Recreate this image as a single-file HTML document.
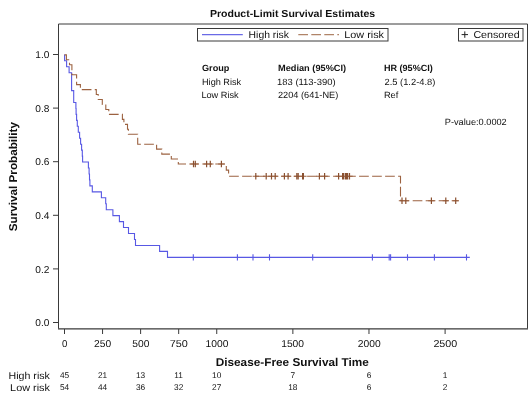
<!DOCTYPE html>
<html><head><meta charset="utf-8"><style>
html,body{margin:0;padding:0;background:#fff;width:531px;height:396px;overflow:hidden}
svg{display:block;will-change:transform}
text{font-family:"Liberation Sans",sans-serif;fill:#111;text-rendering:geometricPrecision}
.tk{font-size:10px}
.ttl{font-size:10.2px;font-weight:bold}
.lg{font-size:10px}
.ib{font-size:9px;font-weight:bold}
.ir{font-size:9px}
.al{font-size:11.4px;font-weight:bold}
.rk{font-size:10px}
.rn{font-size:8.3px}
</style></head><body>
<svg width="531" height="396" viewBox="0 0 531 396">
<path d="M58.5,24H527.5V328.5M58.5,24V328.5" fill="none" stroke="#3a3a3a" stroke-width="1"/>
<path d="M58,328.9H528" fill="none" stroke="#3a3a3a" stroke-width="1.35"/>
<path d="M53,322.50H58.5" stroke="#3a3a3a" stroke-width="1"/>
<path d="M53,268.90H58.5" stroke="#3a3a3a" stroke-width="1"/>
<path d="M53,215.30H58.5" stroke="#3a3a3a" stroke-width="1"/>
<path d="M53,161.70H58.5" stroke="#3a3a3a" stroke-width="1"/>
<path d="M53,108.10H58.5" stroke="#3a3a3a" stroke-width="1"/>
<path d="M53,54.50H58.5" stroke="#3a3a3a" stroke-width="1"/>
<path d="M64.50,329V334" stroke="#3a3a3a" stroke-width="1"/>
<path d="M102.56,329V334" stroke="#3a3a3a" stroke-width="1"/>
<path d="M140.62,329V334" stroke="#3a3a3a" stroke-width="1"/>
<path d="M178.68,329V334" stroke="#3a3a3a" stroke-width="1"/>
<path d="M216.74,329V334" stroke="#3a3a3a" stroke-width="1"/>
<path d="M292.86,329V334" stroke="#3a3a3a" stroke-width="1"/>
<path d="M368.98,329V334" stroke="#3a3a3a" stroke-width="1"/>
<path d="M445.10,329V334" stroke="#3a3a3a" stroke-width="1"/>
<g transform="translate(0,0.35)">
<path d="M64.5,54.5 H64.60 V60.46 H66.60 V66.41 H69.10 V72.37 H71.60 V78.32 H71.60 V84.28 H71.60 V90.23 H73.70 V96.19 H73.70 V102.14 H75.90 V108.10 H76.10 V114.06 H76.60 V120.01 H77.30 V125.97 H78.30 V131.92 H79.60 V137.88 H80.60 V143.83 H81.60 V149.79 H82.30 V155.74 H82.60 V161.70 H88.40 V167.66 H89.10 V173.61 H89.50 V179.57 H89.90 V185.52 H92.30 V191.48 H101.40 V197.43 H105.70 V203.39 H106.30 V209.34 H112.90 V215.30 H119.40 V221.26 H123.50 V227.21 H128.50 V233.17 H134.50 V239.12 H135.50 V245.08 H159.60 V251.03 H167.50 V256.99 H469.8" fill="none" stroke="#5858e4" stroke-width="1.1"/>
<path d="M193.30,253.79V260.19M237.40,253.79V260.19M253.00,253.79V260.19M269.50,253.79V260.19M312.70,253.79V260.19M372.40,253.79V260.19M389.20,253.79V260.19M390.60,253.79V260.19M407.50,253.79V260.19M434.40,253.79V260.19M466.50,253.79V260.19" fill="none" stroke="#5858e4" stroke-width="1.1"/>
<path d="M64.5,54.5 H66.40 V59.46 H69.50 V64.43 H71.90 V69.39 H71.90 V74.35 H76.60 V79.31 H76.60 V84.28 H80.40 V89.24 H96.30 V94.20 H98.20 V99.17 H102.30 V104.13 H105.80 V109.09 H108.80 V114.06 H122.40 V119.02 H123.90 V123.98 H127.50 V128.94 H128.40 V133.91 H137.70 V138.87 H137.70 V143.83 H156.60 V148.80 H161.80 V153.76 H171.30 V158.72 H178.30 V163.69 H226.30 V169.79 H228.60 V175.90 H400.50 V200.33 H458.6" fill="none" stroke="#9c6240" stroke-width="1.1" stroke-dasharray="9.7 3.3"/>
<path d="M190.30,163.69H196.70M192.10,163.69H198.50M203.40,163.69H209.80M207.10,163.69H213.50M218.20,163.69H224.60M252.60,175.90H259.00M263.00,175.90H269.40M268.30,175.90H274.70M272.00,175.90H278.40M281.20,175.90H287.60M284.90,175.90H291.30M293.60,175.90H300.00M295.00,175.90H301.40M299.40,175.90H305.80M300.20,175.90H306.60M316.20,175.90H322.60M321.40,175.90H327.80M335.40,175.90H341.80M339.40,175.90H345.80M340.60,175.90H347.00M342.40,175.90H348.80M343.60,175.90H350.00M344.40,175.90H350.80M346.30,175.90H352.70M398.80,200.33H405.20M402.60,200.33H409.00M428.20,200.33H434.60M442.60,200.33H449.00M452.50,200.33H458.90" fill="none" stroke="#9c6240" stroke-width="1.1"/>
<path d="M193.50,160.49V166.89M195.30,160.49V166.89M206.60,160.49V166.89M210.30,160.49V166.89M221.40,160.49V166.89M255.80,172.70V179.10M266.20,172.70V179.10M271.50,172.70V179.10M275.20,172.70V179.10M284.40,172.70V179.10M288.10,172.70V179.10M296.80,172.70V179.10M298.20,172.70V179.10M302.60,172.70V179.10M303.40,172.70V179.10M319.40,172.70V179.10M324.60,172.70V179.10M338.60,172.70V179.10M342.60,172.70V179.10M343.80,172.70V179.10M345.60,172.70V179.10M346.80,172.70V179.10M347.60,172.70V179.10M349.50,172.70V179.10M402.00,197.13V203.53M405.80,197.13V203.53M431.40,197.13V203.53M445.80,197.13V203.53M455.70,197.13V203.53" fill="none" stroke="#8a5030" stroke-width="1.2"/>
</g>
<rect x="197.5" y="28.5" width="190.5" height="12.5" fill="none" stroke="#3a3a3a" stroke-width="1"/>
<path d="M202,34.6H242.8" stroke="#6a6ae6" stroke-width="1.4"/>
<path d="M298.3,34.6H339" stroke="#b08468" stroke-width="1.4" stroke-dasharray="9.7 3.3"/>
<rect x="458.5" y="28.5" width="64.5" height="12.5" fill="none" stroke="#3a3a3a" stroke-width="1"/>
<path d="M461.6,34.6H468 M464.8,31.4V37.8" stroke="#222" stroke-width="1"/>
<text x="292.55" y="16.80" text-anchor="middle" class="ttl" textLength="165.26" lengthAdjust="spacingAndGlyphs">Product-Limit Survival Estimates</text>
<text x="292.30" y="366.20" text-anchor="middle" class="al" textLength="153.15" lengthAdjust="spacingAndGlyphs">Disease-Free Survival Time</text>
<text transform="translate(17.00,176.60) rotate(-90)" text-anchor="middle" class="al" textLength="109.16" lengthAdjust="spacingAndGlyphs">Survival Probability</text>
<text x="248.60" y="38.20" text-anchor="start" class="lg" textLength="40.31" lengthAdjust="spacingAndGlyphs">High risk</text>
<text x="344.30" y="38.20" text-anchor="start" class="lg" textLength="39.69" lengthAdjust="spacingAndGlyphs">Low risk</text>
<text x="473.40" y="38.40" text-anchor="start" class="lg" textLength="46.36" lengthAdjust="spacingAndGlyphs">Censored</text>
<text x="202.00" y="70.90" text-anchor="start" class="ib" textLength="27.40" lengthAdjust="spacingAndGlyphs">Group</text>
<text x="278.00" y="70.90" text-anchor="start" class="ib" textLength="68.12" lengthAdjust="spacingAndGlyphs">Median (95%CI)</text>
<text x="383.90" y="70.90" text-anchor="start" class="ib" textLength="48.92" lengthAdjust="spacingAndGlyphs">HR (95%CI)</text>
<text x="202.00" y="84.80" text-anchor="start" class="ir" textLength="39.12" lengthAdjust="spacingAndGlyphs">High Risk</text>
<text x="277.00" y="84.80" text-anchor="start" class="ir" textLength="58.68" lengthAdjust="spacingAndGlyphs">183 (113-390)</text>
<text x="384.50" y="84.80" text-anchor="start" class="ir" textLength="50.83" lengthAdjust="spacingAndGlyphs">2.5 (1.2-4.8)</text>
<text x="201.40" y="97.80" text-anchor="start" class="ir" textLength="37.32" lengthAdjust="spacingAndGlyphs">Low Risk</text>
<text x="278.00" y="97.80" text-anchor="start" class="ir" textLength="60.25" lengthAdjust="spacingAndGlyphs">2204 (641-NE)</text>
<text x="383.90" y="97.80" text-anchor="start" class="ir" textLength="14.42" lengthAdjust="spacingAndGlyphs">Ref</text>
<text x="444.80" y="124.80" text-anchor="start" class="ir" textLength="61.95" lengthAdjust="spacingAndGlyphs">P-value:0.0002</text>
<text x="49.90" y="378.50" text-anchor="end" class="rk" textLength="41.33" lengthAdjust="spacingAndGlyphs">High risk</text>
<text x="49.90" y="390.90" text-anchor="end" class="rk" textLength="39.79" lengthAdjust="spacingAndGlyphs">Low risk</text>
<text x="49.50" y="326.20" text-anchor="end" class="tk" textLength="14.11" lengthAdjust="spacingAndGlyphs">0.0</text>
<text x="49.50" y="272.60" text-anchor="end" class="tk" textLength="14.11" lengthAdjust="spacingAndGlyphs">0.2</text>
<text x="49.50" y="219.00" text-anchor="end" class="tk" textLength="14.11" lengthAdjust="spacingAndGlyphs">0.4</text>
<text x="49.50" y="165.40" text-anchor="end" class="tk" textLength="14.11" lengthAdjust="spacingAndGlyphs">0.6</text>
<text x="49.50" y="111.80" text-anchor="end" class="tk" textLength="14.11" lengthAdjust="spacingAndGlyphs">0.8</text>
<text x="49.50" y="58.20" text-anchor="end" class="tk" textLength="14.11" lengthAdjust="spacingAndGlyphs">1.0</text>
<text x="64.80" y="346.70" text-anchor="middle" class="tk" textLength="5.36" lengthAdjust="spacingAndGlyphs">0</text>
<text x="102.60" y="346.70" text-anchor="middle" class="tk" textLength="17.09" lengthAdjust="spacingAndGlyphs">250</text>
<text x="140.90" y="346.70" text-anchor="middle" class="tk" textLength="17.09" lengthAdjust="spacingAndGlyphs">500</text>
<text x="178.70" y="346.70" text-anchor="middle" class="tk" textLength="18.09" lengthAdjust="spacingAndGlyphs">750</text>
<text x="217.00" y="346.70" text-anchor="middle" class="tk" textLength="22.85" lengthAdjust="spacingAndGlyphs">1000</text>
<text x="292.60" y="346.70" text-anchor="middle" class="tk" textLength="22.85" lengthAdjust="spacingAndGlyphs">1500</text>
<text x="369.20" y="346.70" text-anchor="middle" class="tk" textLength="22.85" lengthAdjust="spacingAndGlyphs">2000</text>
<text x="445.30" y="346.70" text-anchor="middle" class="tk" textLength="23.85" lengthAdjust="spacingAndGlyphs">2500</text>
<text x="64.50" y="378.20" text-anchor="middle" class="rn">45</text>
<text x="64.50" y="390.20" text-anchor="middle" class="rn">54</text>
<text x="102.56" y="378.20" text-anchor="middle" class="rn">21</text>
<text x="102.56" y="390.20" text-anchor="middle" class="rn">44</text>
<text x="140.62" y="378.20" text-anchor="middle" class="rn">13</text>
<text x="140.62" y="390.20" text-anchor="middle" class="rn">36</text>
<text x="178.68" y="378.20" text-anchor="middle" class="rn">11</text>
<text x="178.68" y="390.20" text-anchor="middle" class="rn">32</text>
<text x="216.74" y="378.20" text-anchor="middle" class="rn">10</text>
<text x="216.74" y="390.20" text-anchor="middle" class="rn">27</text>
<text x="292.86" y="378.20" text-anchor="middle" class="rn">7</text>
<text x="292.86" y="390.20" text-anchor="middle" class="rn">18</text>
<text x="368.98" y="378.20" text-anchor="middle" class="rn">6</text>
<text x="368.98" y="390.20" text-anchor="middle" class="rn">6</text>
<text x="445.10" y="378.20" text-anchor="middle" class="rn">1</text>
<text x="445.10" y="390.20" text-anchor="middle" class="rn">2</text>
</svg>
</body></html>
